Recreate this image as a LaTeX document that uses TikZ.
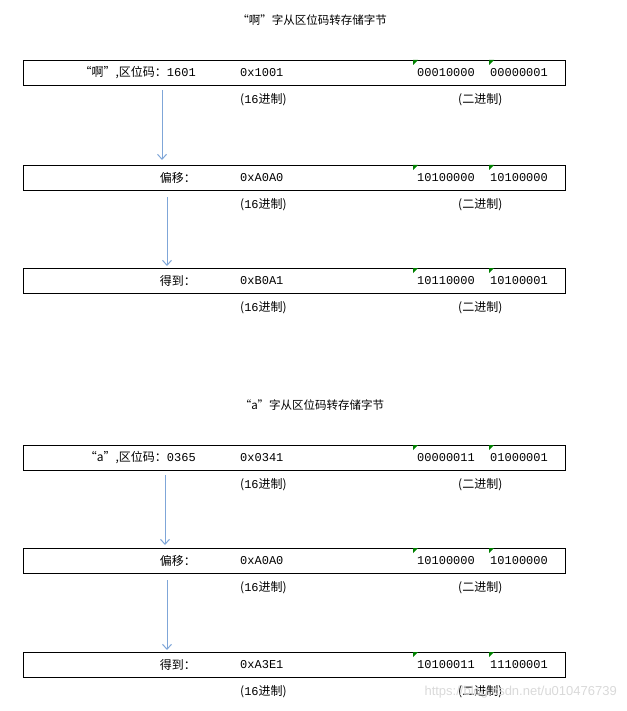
\documentclass[tikz,border=0pt]{standalone}
\usepackage{fontspec}
\usetikzlibrary{arrows.meta}
\setmainfont{Liberation Mono}
\newfontfamily\cjk{Noto Sans CJK SC}
\newfontfamily\wmfont{Liberation Sans}
\definecolor{arblue}{HTML}{7FA6D8}
\begin{document}
\begin{tikzpicture}[x=1pt,y=-1pt,
  bx/.style={draw,line width=0.8pt,minimum width=542pt,minimum height=25pt,inner sep=0,anchor=north west},
  tx/.style={font=\fontsize{12}{14}\selectfont,inner sep=0,anchor=west},
  lb/.style={font=\fontsize{12}{14}\selectfont,inner sep=0,anchor=east},
  ar/.style={draw=arblue,line width=1pt,-{Straight Barb[length=5pt,width=9pt]}},
  gt/.style={fill=green!50!black}]
\useasboundingbox (0,0) rectangle (626,711);
\node[font=\cjk\fontsize{11.5}{13}\selectfont] (t1) at (312,20) {“啊”字从区位码转存储字节};
\node[font=\cjk\fontsize{11.5}{13}\selectfont] (t2) at (312,405) {“a”字从区位码转存储字节};
\foreach \n/\y/\l/\h/\ba/\bb in {
 b1/60/{\cjk “啊”,区位码：}1601/0x1001/00010000/00000001,
 b2/165/{\cjk 偏移：}/0xA0A0/10100000/10100000,
 b3/268/{\cjk 得到：}/0xB0A1/10110000/10100001,
 b4/445/{\cjk “a”,区位码：}0365/0x0341/00000011/01000001,
 b5/548/{\cjk 偏移：}/0xA0A0/10100000/10100000,
 b6/652/{\cjk 得到：}/0xA3E1/10100011/11100001}{
 \node[bx] (\n) at (23,\y) {};
 \node[lb] (\n l) at (196,\y+12.5) {\l};
 \node[tx] (\n h) at (240,\y+12.5) {\h};
 \node[tx] (\n a) at (417,\y+12.5) {\ba};
 \node[tx] (\n b) at (490,\y+12.5) {\bb};
 \fill[gt] (413,\y) -- (418,\y) -- (413,\y+5) -- cycle;
 \fill[gt] (489,\y) -- (494,\y) -- (489,\y+5) -- cycle;
 \node[tx] (\n x) at (240,\y+39.5) {{\cjk(}16{\cjk 进制)}};
 \node[tx] (\n y) at (458,\y+39.5) {{\cjk(二进制)}};
}
\coordinate (a1) at (162,90); \coordinate (a1e) at (162,160);
\coordinate (a2) at (167,197); \coordinate (a2e) at (167,266);
\coordinate (a3) at (165,475); \coordinate (a3e) at (165,545);
\coordinate (a4) at (167,580); \coordinate (a4e) at (167,650);
\draw[ar] (a1) -- (a1e);
\draw[ar] (a2) -- (a2e);
\draw[ar] (a3) -- (a3e);
\draw[ar] (a4) -- (a4e);
\node[font=\wmfont\fontsize{13}{15}\selectfont,text=gray!30,anchor=east,inner sep=0] (wm) at (617,692) {https://blog.csdn.net/u010476739};
\end{tikzpicture}
\end{document}
